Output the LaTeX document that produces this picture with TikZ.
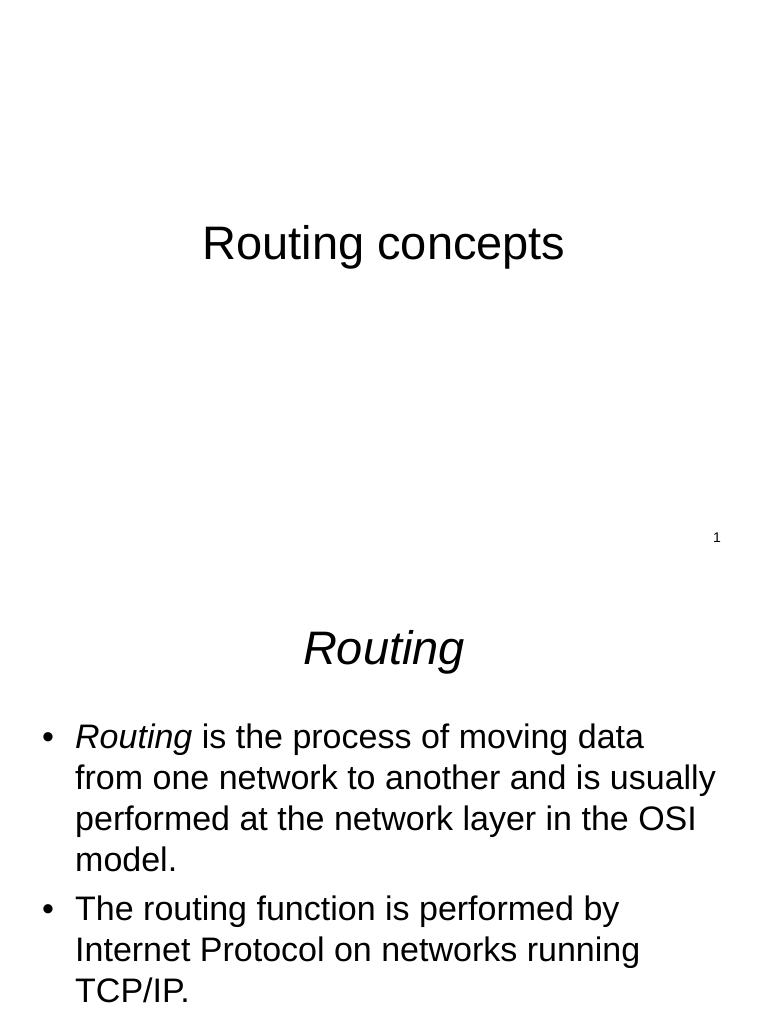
\documentclass[tikz,border=0pt]{standalone}
\usepackage{fontspec}
\setmainfont{Liberation Sans}
\begin{document}
\begin{tikzpicture}[x=1pt,y=-1pt,
  body/.style={anchor=base west,inner sep=0pt,font=\fontsize{34}{40}\selectfont},
  bul/.style={anchor=base west,inner sep=0pt,font=\fontsize{34}{40}\selectfont}]
\useasboundingbox (0,0) rectangle (768,1024);
\node[anchor=base,inner sep=0pt,font=\fontsize{47}{54}\selectfont] (title) at (384,259) {Routing concepts};
\node[anchor=base,inner sep=0pt,font=\fontsize{14}{16}\selectfont] (pg) at (717,542) {1};
\node[anchor=base,inner sep=0pt,font=\fontsize{47}{52}\selectfont\itshape] (head) at (384,664) {Routing};
\node[bul] (b1) at (42,748) {•};
\node[body] (l1) at (75,748) {\textit{Routing} is the process of moving data};
\node[body] (l2) at (75,789) {from one network to another and is usually};
\node[body] (l3) at (75,830) {performed at the network layer in the OSI};
\node[body] (l4) at (75,871) {model.};
\node[bul] (b2) at (42,920) {•};
\node[body] (l5) at (75,920) {The routing function is performed by};
\node[body] (l6) at (75,961) {Internet Protocol on networks running};
\node[body] (l7) at (75,1002) {TCP/IP.};
\end{tikzpicture}
\end{document}
